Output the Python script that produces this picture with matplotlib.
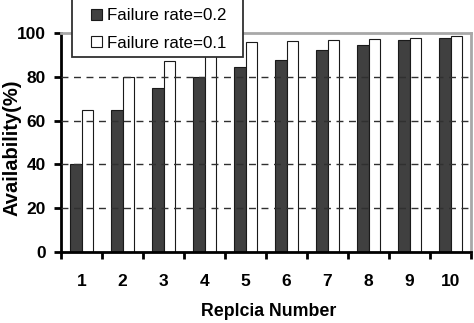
import matplotlib
matplotlib.use("Agg")
import matplotlib.pyplot as plt
from matplotlib.patches import Rectangle
import numpy as np

categories = ["1", "2", "3", "4", "5", "6", "7", "8", "9", "10"]
rate_02 = [40, 65, 75, 80, 84.5, 87.6, 92.2, 94.5, 96.8, 97.9]
rate_01 = [65, 80, 87, 90, 95.9, 96.3, 96.7, 97.1, 97.9, 98.5]
series_labels = ["Failure rate=0.2", "Failure rate=0.1"]
yticks = [0, 20, 40, 60, 80, 100]

plt.rcParams['font.family'] = ['Liberation Sans', 'DejaVu Sans']

W, H = 474, 323
fig = plt.figure(figsize=(W / 100, H / 100), dpi=100)
ax_l, ax_r, ax_t, ax_b = 61, 471, 33, 252
ax = fig.add_axes([ax_l / W, (H - ax_b) / H, (ax_r - ax_l) / W, (ax_b - ax_t) / H])
aw, ah = ax_r - ax_l, ax_b - ax_t

x = np.arange(1, len(categories) + 1)
w = 0.285
b1 = ax.bar(x - w/2, rate_02, width=w, color='#404040', edgecolor='#1a1a1a', linewidth=0.8, zorder=2, label=series_labels[0])
b2 = ax.bar(x + w/2, rate_01, width=w, color='white', edgecolor='#1a1a1a', linewidth=0.8, zorder=2, label=series_labels[1])

for v in yticks[1:-1]:
    ax.axhline(v, color='#303030', linestyle=(0, (5, 4)), linewidth=1.0, zorder=3)

ax.set_xlim(0.5, len(categories) + 0.5)
ax.set_ylim(0, 100)
ax.set_yticks(yticks)
ax.set_yticklabels([str(t) for t in yticks], fontsize=12.5, fontweight='bold')
ax.set_xticks(x)
ax.set_xticklabels(categories, fontsize=12.5, fontweight='bold')
ax.tick_params(axis='x', length=0, pad=16)
ax.set_xticks(np.arange(0.5, len(categories) + 1.0, 1.0), minor=True)
ax.tick_params(axis='x', which='minor', length=5, width=2, direction='out', color='black')
ax.tick_params(axis='y', length=5, width=2, direction='out', pad=6)

for s in ['left', 'bottom']:
    ax.spines[s].set_linewidth(2)
    ax.spines[s].set_color('black')
for s in ['top', 'right']:
    ax.spines[s].set_linewidth(2)
    ax.spines[s].set_color('#a8a8a8')

ax.set_ylabel("Availability(%)", fontsize=14.5, fontweight='bold', va='center')
ax.yaxis.set_label_coords((12 - ax_l) / aw, (ax_b - 148) / ah)
ax.set_xlabel("Replcia Number", fontsize=12.8, fontweight='bold', va='center')
ax.xaxis.set_label_coords((269 - ax_l) / aw, (ax_b - 312) / ah)

# legend frame
frame = Rectangle((72 / W, (H - 57) / H), (243 - 72) / W, 60 / H,
                  transform=fig.transFigure, facecolor='white',
                  edgecolor='#303030', linewidth=1.3, zorder=9)
fig.add_artist(frame)

leg = fig.legend(handles=[b1, b2], labels=series_labels, loc='center left',
                 bbox_to_anchor=(91 / W, (H - 29.5) / H), fontsize=12.2, frameon=False,
                 handlelength=0.65, handleheight=0.65, handletextpad=0.3,
                 borderpad=0, labelspacing=0.72, borderaxespad=0)
leg.set_zorder(10)

fig.savefig("out.png", dpi=100)
